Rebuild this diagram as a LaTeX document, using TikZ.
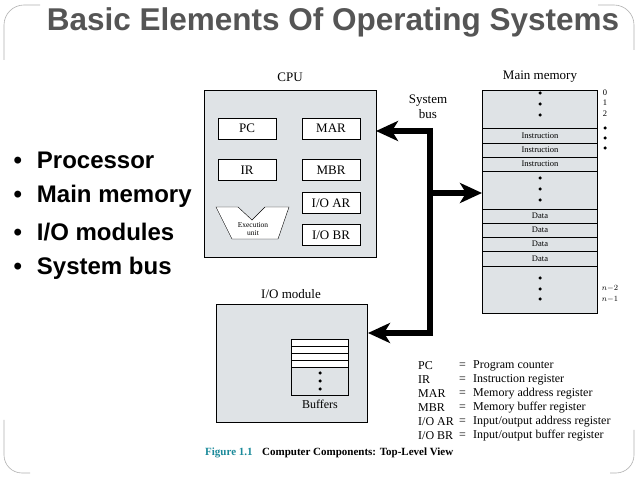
\documentclass[tikz,border=0pt]{standalone}
\usepackage{fontspec}
\setmainfont{Liberation Serif}
\newfontfamily\sansf{Liberation Sans}
\usetikzlibrary{arrows.meta}
\definecolor{boxg}{HTML}{DFE3E6}
\definecolor{titleg}{HTML}{555555}
\definecolor{teal}{HTML}{1A8A9A}
\begin{document}
\begin{tikzpicture}[x=1pt,y=-1pt,
  reg/.style={draw,fill=white,minimum width=58pt,minimum height=21pt,inner sep=0pt,font=\fontsize{13}{13}\selectfont},
  lbl/.style={font=\fontsize{13}{13}\selectfont},
  cell/.style={font=\fontsize{8.5}{8.5}\selectfont},
  dot/.style={circle,fill=black,inner sep=0pt,minimum size=3.5pt},
  bus/.style={line width=6pt},
  busarr/.style={line width=6pt,-{Stealth[length=22pt,width=20pt,inset=6pt]}},
  bullet/.style={anchor=west,font=\sansf\bfseries\fontsize{24}{24}\selectfont},
  leg/.style={anchor=west,font=\fontsize{12}{12}\selectfont,inner sep=0pt}]
\useasboundingbox (0,0) rectangle (638,478);
\fill[white] (0,0) rectangle (638,478);
% slide corner marks
\draw[gray!60,line width=0.6pt] (4,60) -- (4,25) arc[start angle=180,end angle=90,radius=20pt] -- (40,5);
\draw[gray!60,line width=0.6pt] (598,5) -- (614,5) arc[start angle=90,end angle=0,radius=20pt] -- (634,50);
\draw[gray!60,line width=0.6pt] (4,420) -- (4,455) arc[start angle=180,end angle=270,radius=18pt] -- (30,473);
\draw[gray!60,line width=0.6pt] (610,473) -- (616,473) arc[start angle=270,end angle=360,radius=18pt] -- (634,430);
% title
\node[font=\sansf\bfseries\fontsize{31.5}{32}\selectfont,text=titleg] (title) at (333,22) {Basic Elements Of Operating Systems};
% bullets
\node[bullet] (b1) at (10,160) {\textbullet\hspace{15pt}Processor};
\node[bullet] (b2) at (10,196) {\textbullet\hspace{15pt}Main memory};
\node[bullet] (b3) at (10,232) {\textbullet\hspace{15pt}I/O modules};
\node[bullet] (b4) at (10,268) {\textbullet\hspace{15pt}System bus};
% CPU
\draw[fill=boxg] (204,90) rectangle (376,257);
\node[lbl] (cpul) at (290,77) {CPU};
\node[reg] (pc) at (247,128.5) {PC};
\node[reg] (mar) at (331,128.5) {MAR};
\node[reg] (ir) at (247,170) {IR};
\node[reg] (mbr) at (331,170) {MBR};
\node[reg] (ioar) at (331,203) {I/O AR};
\node[reg] (iobr) at (331,235) {I/O BR};
\draw[fill=white] (216,207) -- (238,207) -- (252,220) -- (265,207) -- (289,207) -- (278,239) -- (232,239) -- cycle;
\node[font=\fontsize{7.5}{8}\selectfont,align=center] (exu) at (253,229) {Execution\\unit};
% Main memory
\draw[fill=boxg] (482,90) rectangle (597,313);
\node[lbl] (mml) at (540,77) {Main memory};
\foreach \a/\b/\t [count=\i] in {128/143/Instruction,143/157/Instruction,157/171/Instruction,209/223/Data,223/237/Data,237/251/Data,251/266/Data}{
  \draw (482,\a) rectangle (597,\b);
  \node[cell] (c\i) at (540,{(\a+\b)/2}) {\t};
}
\foreach \y in {93,104,115,178,189,200,278,289,299} \node[dot] at (540,\y) {};
\foreach \y/\t in {93/0,103/1,114/2} \node[font=\fontsize{8.5}{8.5}\selectfont] at (605,\y) {\t};
\foreach \y in {128,138,148} \node[dot] at (605,\y) {};
\node[font=\fontsize{8.5}{8.5}\selectfont] (n2) at (610,288) {$n{-}2$};
\node[font=\fontsize{8.5}{8.5}\selectfont] (n1) at (610,299) {$n{-}1$};
% I/O module
\draw[fill=boxg] (216,304) rectangle (367,422);
\node[lbl] (iol) at (291,294) {I/O module};
\draw[fill=boxg] (291,339) rectangle (348,395);
\foreach \a/\b in {339/346,346/353,353/360,360/367} \draw[fill=white] (291,\a) rectangle (348,\b);
\foreach \y in {373,381,389} \node[dot] at (320,\y) {};
\node[font=\fontsize{12}{12}\selectfont] (buf) at (320,404) {Buffers};
% bus
\coordinate (bm) at (430,193);
\draw[bus] (430,128) -- (430,336);
\draw[busarr] (433,131) -- (376,131);
\draw[busarr] (bm) -- (482,193);
\draw[busarr] (433,333) -- (368,333);
\node[lbl,align=center,font=\fontsize{13}{15}\selectfont] (sb) at (428,107) {System\\bus};
% legend
\node[leg] (la1) at (418,366) {PC};
\node[leg] (la2) at (418,380) {IR};
\node[leg] (la3) at (418,394) {MAR};
\node[leg] (la4) at (418,408) {MBR};
\node[leg] (la5) at (418,422) {I/O AR};
\node[leg] (la6) at (418,436) {I/O BR};
\foreach \i in {1,...,6} \node[leg] (le\i) at (459,{352+14*\i}) {=};
\node[leg] (ld1) at (473,366) {Program counter};
\node[leg] (ld2) at (473,380) {Instruction register};
\node[leg] (ld3) at (473,394) {Memory address register};
\node[leg] (ld4) at (473,408) {Memory buffer register};
\node[leg] (ld5) at (473,422) {Input/output address register};
\node[leg] (ld6) at (473,436) {Input/output buffer register};
% caption
\node[anchor=west,inner sep=0pt,font=\bfseries\fontsize{11}{11}\selectfont,text=teal] (fig) at (205,453) {Figure 1.1};
\node[anchor=west,inner sep=0pt,font=\bfseries\fontsize{11}{11}\selectfont] (cap) at (262,453) {Computer Components: Top-Level View};
\end{tikzpicture}
\end{document}
